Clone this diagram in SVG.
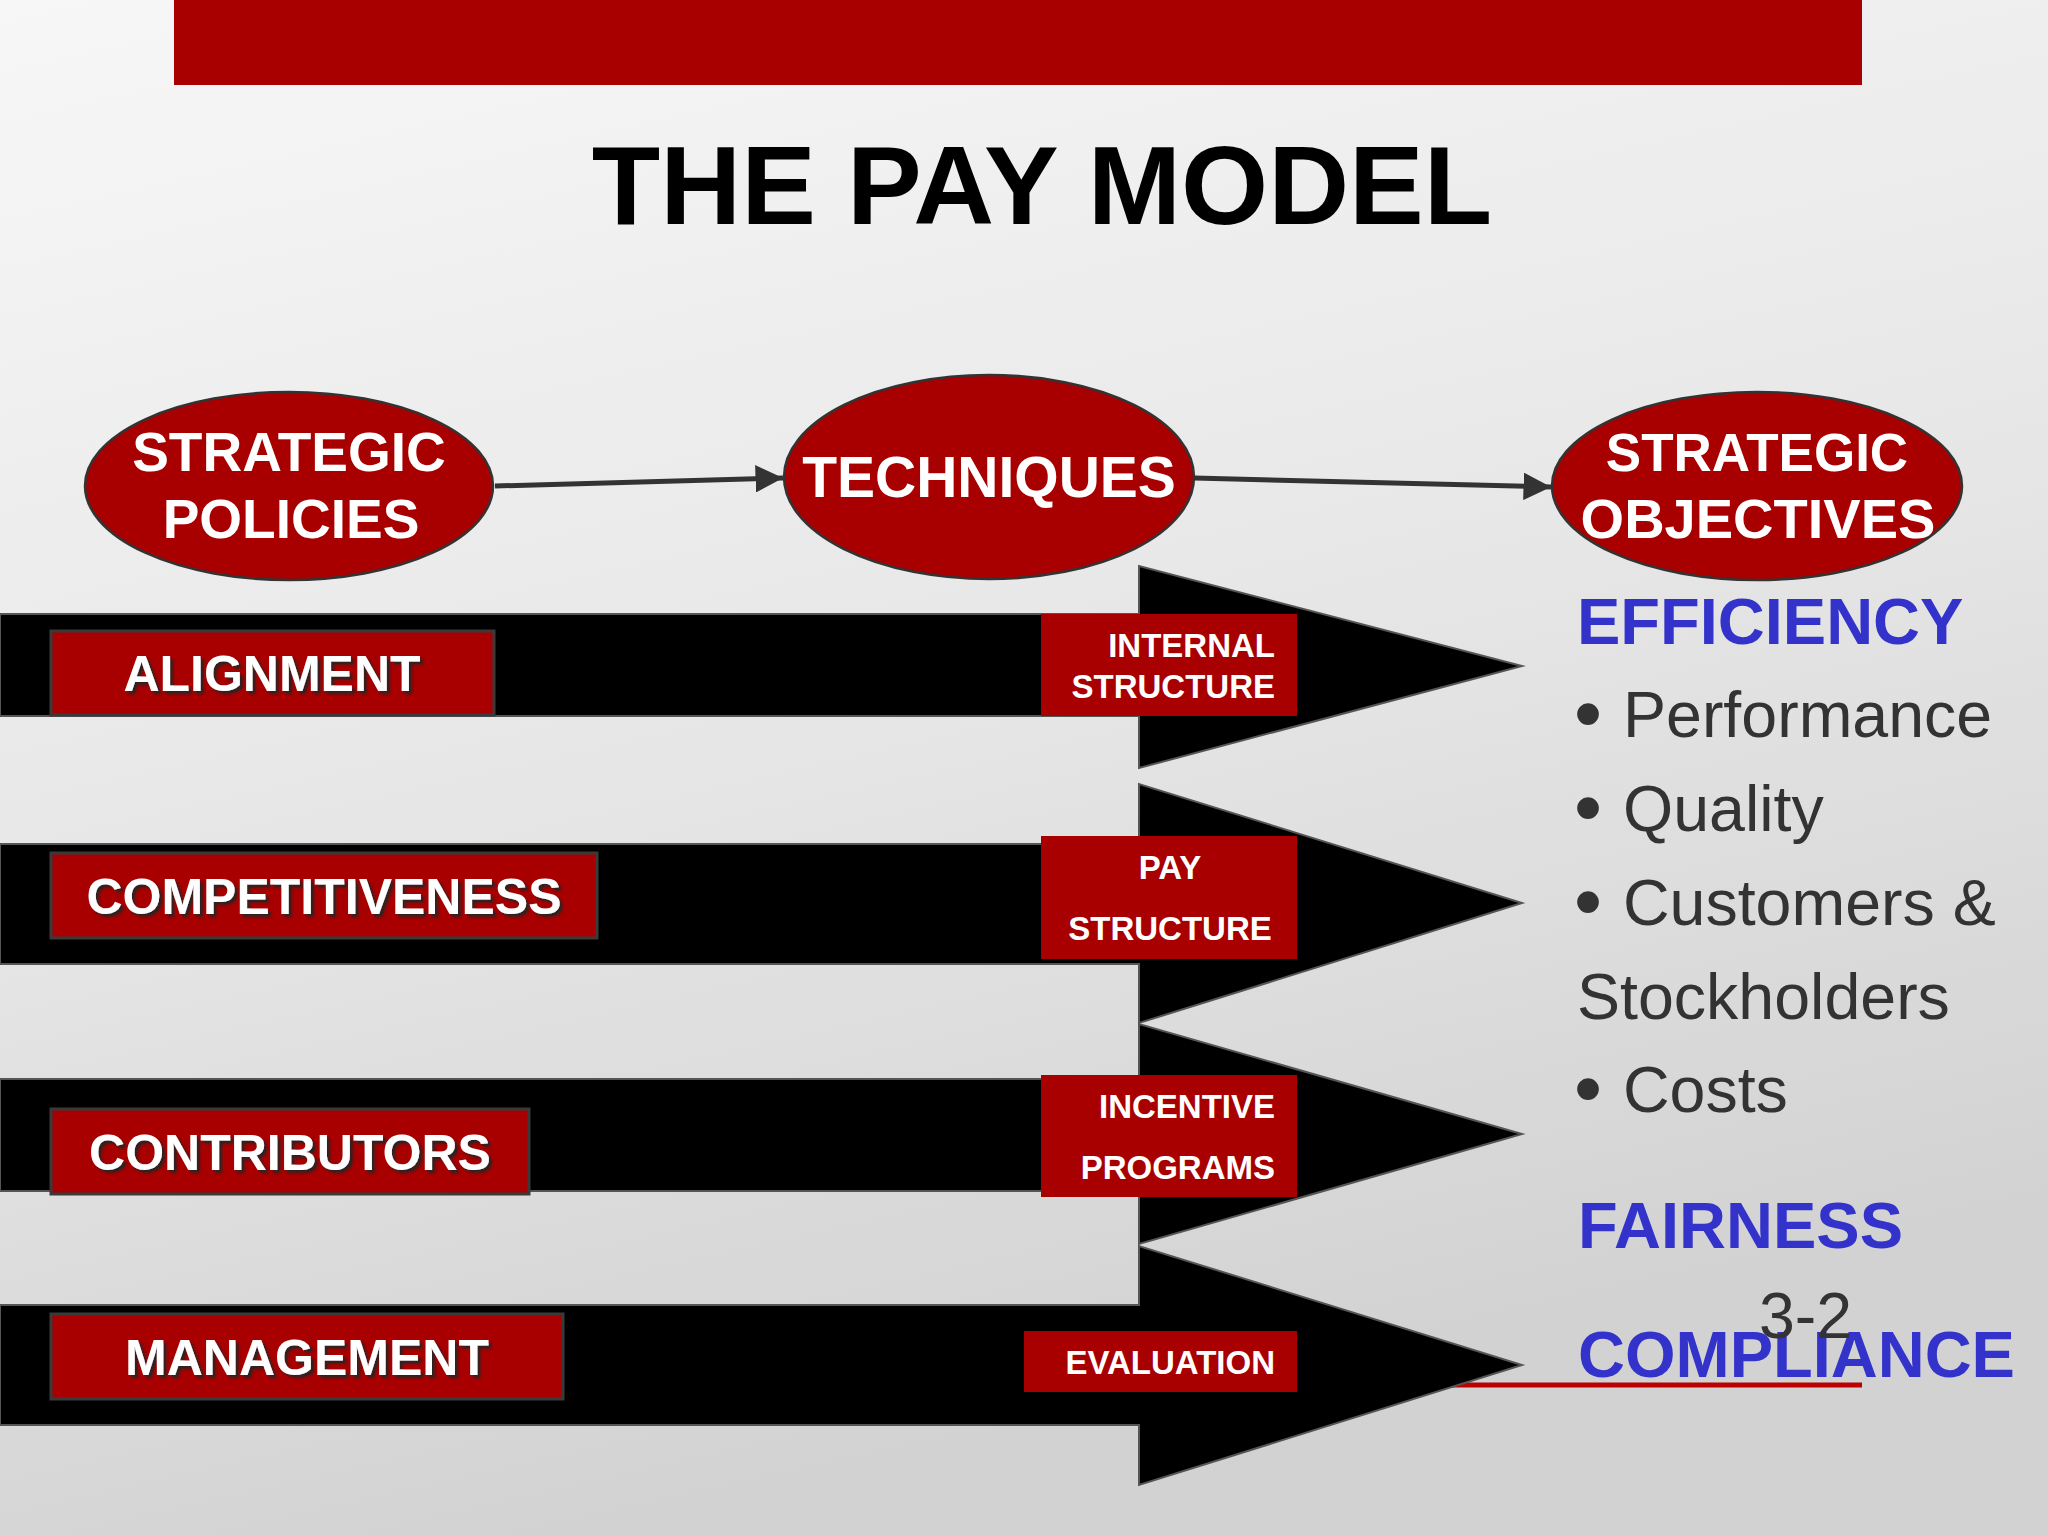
<svg xmlns="http://www.w3.org/2000/svg" width="2048" height="1536" viewBox="0 0 2048 1536">
<defs>
<linearGradient id="bg" x1="0" y1="0" x2="0.3" y2="1">
<stop offset="0" stop-color="#f7f7f7"/>
<stop offset="0.5" stop-color="#e8e8e8"/>
<stop offset="1" stop-color="#d2d2d2"/>
</linearGradient>
<marker id="ah" viewBox="0 0 10 10" refX="10" refY="5" markerWidth="5.5" markerHeight="5.5" orient="auto" markerUnits="strokeWidth">
<path d="M0,0 L10,5 L0,10 Z" fill="#333333"/>
</marker>
<filter id="sh" x="-10%" y="-20%" width="130%" height="150%">
<feDropShadow dx="3" dy="3" stdDeviation="1" flood-color="#222222" flood-opacity="0.9"/>
</filter>
</defs>
<style>
.ell{fill:#a80000;stroke:#333333;stroke-width:2.5}
.et{font-family:"Liberation Sans",Arial,sans-serif;font-weight:bold;fill:#ffffff;text-anchor:middle}
.band{fill:#000000;stroke:#555555;stroke-width:2}
.lbox{fill:#a80000;stroke:#3a3a3a;stroke-width:3}
.rbox{fill:#a80000}
.lt{font-family:"Liberation Sans",Arial,sans-serif;font-weight:bold;font-size:50px;fill:#ffffff;text-anchor:middle;filter:url(#sh)}
.rt{font-family:"Liberation Sans",Arial,sans-serif;font-weight:bold;font-size:33px;fill:#ffffff}
.hd{font-family:"Liberation Sans",Arial,sans-serif;font-weight:bold;font-size:65px;fill:#3333cc}
.bl{font-family:"Liberation Sans",Arial,sans-serif;font-size:64.5px;fill:#333333}
.bu{font-size:80px}
.conn{stroke:#333333;stroke-width:5;fill:none}
</style>
<rect x="0" y="0" width="2048" height="1536" fill="url(#bg)"/>
<rect x="174" y="0" width="1688" height="85" fill="#a80000"/>
<text x="1042" y="224" font-family="Liberation Sans, Arial, sans-serif" font-weight="bold" font-size="112" fill="#000000" text-anchor="middle">THE PAY MODEL</text>

<line x1="174" y1="1385" x2="1862" y2="1385" stroke="#bb0000" stroke-width="5"/>

<g id="band-alignment">
<path class="band" d="M0,614 H1139 V566 L1522,666 L1139,768 V716 H0 Z"/>
<rect class="lbox" x="51" y="631" width="443" height="84"/>
<text class="lt" x="272" y="691">ALIGNMENT</text>
<rect class="rbox" x="1041" y="614" width="256" height="102"/>
<text class="rt" text-anchor="end"><tspan x="1275" y="657">INTERNAL</tspan><tspan x="1275" y="698">STRUCTURE</tspan></text>
</g>
<g id="band-competitiveness">
<path class="band" d="M0,844 H1139 V784 L1522,903 L1139,1023 V964 H0 Z"/>
<rect class="lbox" x="51" y="853" width="546" height="85"/>
<text class="lt" x="324" y="914">COMPETITIVENESS</text>
<rect class="rbox" x="1041" y="836" width="256" height="123"/>
<text class="rt" text-anchor="middle"><tspan x="1170" y="879">PAY</tspan><tspan x="1170" y="940">STRUCTURE</tspan></text>
</g>
<g id="band-contributors">
<path class="band" d="M0,1079 H1139 V1024 L1522,1134 L1139,1244 V1191 H0 Z"/>
<rect class="lbox" x="51" y="1109" width="478" height="85"/>
<text class="lt" x="290" y="1170">CONTRIBUTORS</text>
<rect class="rbox" x="1041" y="1075" width="256" height="122"/>
<text class="rt" text-anchor="end"><tspan x="1275" y="1118">INCENTIVE</tspan><tspan x="1275" y="1179">PROGRAMS</tspan></text>
</g>
<g id="band-management">
<path class="band" d="M0,1305 H1139 V1246 L1522,1365 L1139,1485 V1425 H0 Z"/>
<rect class="lbox" x="51" y="1314" width="512" height="85"/>
<text class="lt" x="307" y="1375">MANAGEMENT</text>
<rect class="rbox" x="1024" y="1331" width="273" height="61"/>
<text class="rt" text-anchor="end" x="1275" y="1374">EVALUATION</text>
</g>

<g id="connectors">
<line class="conn" x1="495" y1="486" x2="783" y2="478" marker-end="url(#ah)"/>
<line class="conn" x1="1194" y1="478" x2="1551" y2="487" marker-end="url(#ah)"/>
</g>

<g id="node-policies">
<ellipse class="ell" cx="289" cy="486" rx="204" ry="94"/>
<text class="et" font-size="55"><tspan x="289" y="471">STRATEGIC</tspan><tspan x="291" y="538">POLICIES</tspan></text>
</g>
<g id="node-techniques">
<ellipse class="ell" cx="989" cy="477" rx="205" ry="102"/>
<text class="et" font-size="57" x="989" y="497">TECHNIQUES</text>
</g>
<g id="node-objectives">
<ellipse class="ell" cx="1757" cy="486" rx="205" ry="94"/>
<text class="et" font-size="53"><tspan x="1757" y="471">STRATEGIC</tspan><tspan x="1758" y="538" font-size="56">OBJECTIVES</tspan></text>
</g>

<g id="objectives-list">
<text class="hd" x="1577" y="644">EFFICIENCY</text>
<text class="bl"><tspan class="bu" x="1574" y="741">•</tspan><tspan x="1623" y="737">Performance</tspan></text>
<text class="bl"><tspan class="bu" x="1574" y="835">•</tspan><tspan x="1623" y="831">Quality</tspan></text>
<text class="bl"><tspan class="bu" x="1574" y="929">•</tspan><tspan x="1623" y="925">Customers &amp;</tspan></text>
<text class="bl" x="1577" y="1019">Stockholders</text>
<text class="bl"><tspan class="bu" x="1574" y="1116">•</tspan><tspan x="1623" y="1112">Costs</tspan></text>
<text class="hd" x="1578" y="1248">FAIRNESS</text>
<text class="hd" x="1578" y="1377">COMPLIANCE</text>
<text class="bl" x="1759" y="1338" font-size="64">3-2</text>
</g>
</svg>
